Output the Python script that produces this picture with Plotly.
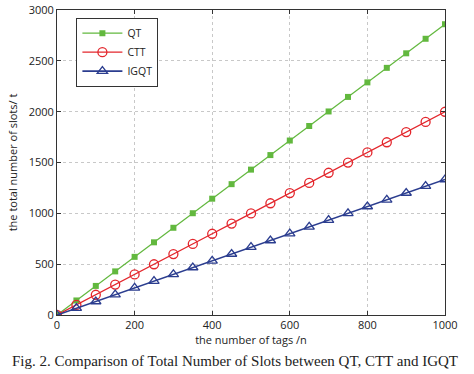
import plotly.graph_objects as go

n_tags = [0, 50, 100, 150, 200, 250, 300, 350, 400, 450, 500,
          550, 600, 650, 700, 750, 800, 850, 900, 950, 1000]
qt = [0, 143, 286, 429, 572, 715, 858, 1001, 1144, 1287, 1430,
      1573, 1716, 1859, 2002, 2145, 2288, 2431, 2574, 2717, 2860]
ctt = [0, 99, 199, 299, 399, 499, 599, 699, 799, 899, 999,
       1099, 1199, 1299, 1399, 1499, 1599, 1699, 1799, 1899, 1999]
igqt = [0, 67, 133, 200, 267, 333, 400, 467, 533, 600, 667,
        733, 800, 867, 933, 1000, 1067, 1133, 1200, 1267, 1333]
x_ticks = [0, 200, 400, 600, 800, 1000]
y_ticks = [0, 500, 1000, 1500, 2000, 2500, 3000]

fig = go.Figure()
fig.add_trace(go.Scatter(x=n_tags, y=qt, name="QT", mode="lines+markers",
                         line=dict(color="#62b83e", width=1.3),
                         marker=dict(symbol="square", size=6, color="#62b83e")))
fig.add_trace(go.Scatter(x=n_tags, y=ctt, name="CTT", mode="lines+markers",
                         line=dict(color="#e3262c", width=1.3),
                         marker=dict(symbol="circle-open", size=9, color="#e3262c",
                                     line=dict(width=1.3))))
fig.add_trace(go.Scatter(x=n_tags, y=igqt, name="IGQT", mode="lines+markers",
                         line=dict(color="#2b3d8f", width=1.6),
                         marker=dict(symbol="triangle-up-open", size=9, color="#2b3d8f",
                                     line=dict(width=1.3))))

axis_common = dict(showline=True, linecolor="#333", linewidth=1, mirror="ticks",
                   ticks="inside", ticklen=4, tickcolor="#333", automargin=False,
                   showgrid=True, gridcolor="#c8c8c8", griddash="dot", gridwidth=1,
                   zeroline=False, tickfont=dict(family="Open Sans, sans-serif", size=11, color="#222"))

fig.update_xaxes(range=[0, 1000], tickvals=x_ticks,
                 title=dict(text="the number of tags /n", standoff=2,
                            font=dict(family="Open Sans, sans-serif", size=11, color="#222")),
                 **axis_common)
fig.update_yaxes(range=[0, 3000], tickvals=y_ticks,
                 title=dict(text="the total number of slots/ t", standoff=8,
                            font=dict(family="Open Sans, sans-serif", size=11, color="#222")),
                 **axis_common)

fig.update_layout(
    width=474, height=374,
    margin=dict(l=57, r=29, t=10, b=59),
    paper_bgcolor="white", plot_bgcolor="white",
    showlegend=True,
    legend=dict(x=0.05, y=0.975, xanchor="left", yanchor="top",
                bordercolor="#333", borderwidth=1, bgcolor="white",
                font=dict(family="Open Sans, sans-serif", size=10.5, color="#222"),
                itemwidth=40, tracegroupgap=0),
    annotations=[dict(text="Fig. 2. Comparison of Total Number of Slots between QT, CTT and IGQT",
                      xref="paper", yref="paper", x=0.46, y=-0.183, yanchor="bottom",
                      showarrow=False,
                      font=dict(family="Liberation Serif, serif", size=15, color="#222"))],
)

fig.write_html("out.html", config={"displayModeBar": False},
               post_script="document.body.style.margin='0';document.body.style.overflow='hidden';")
